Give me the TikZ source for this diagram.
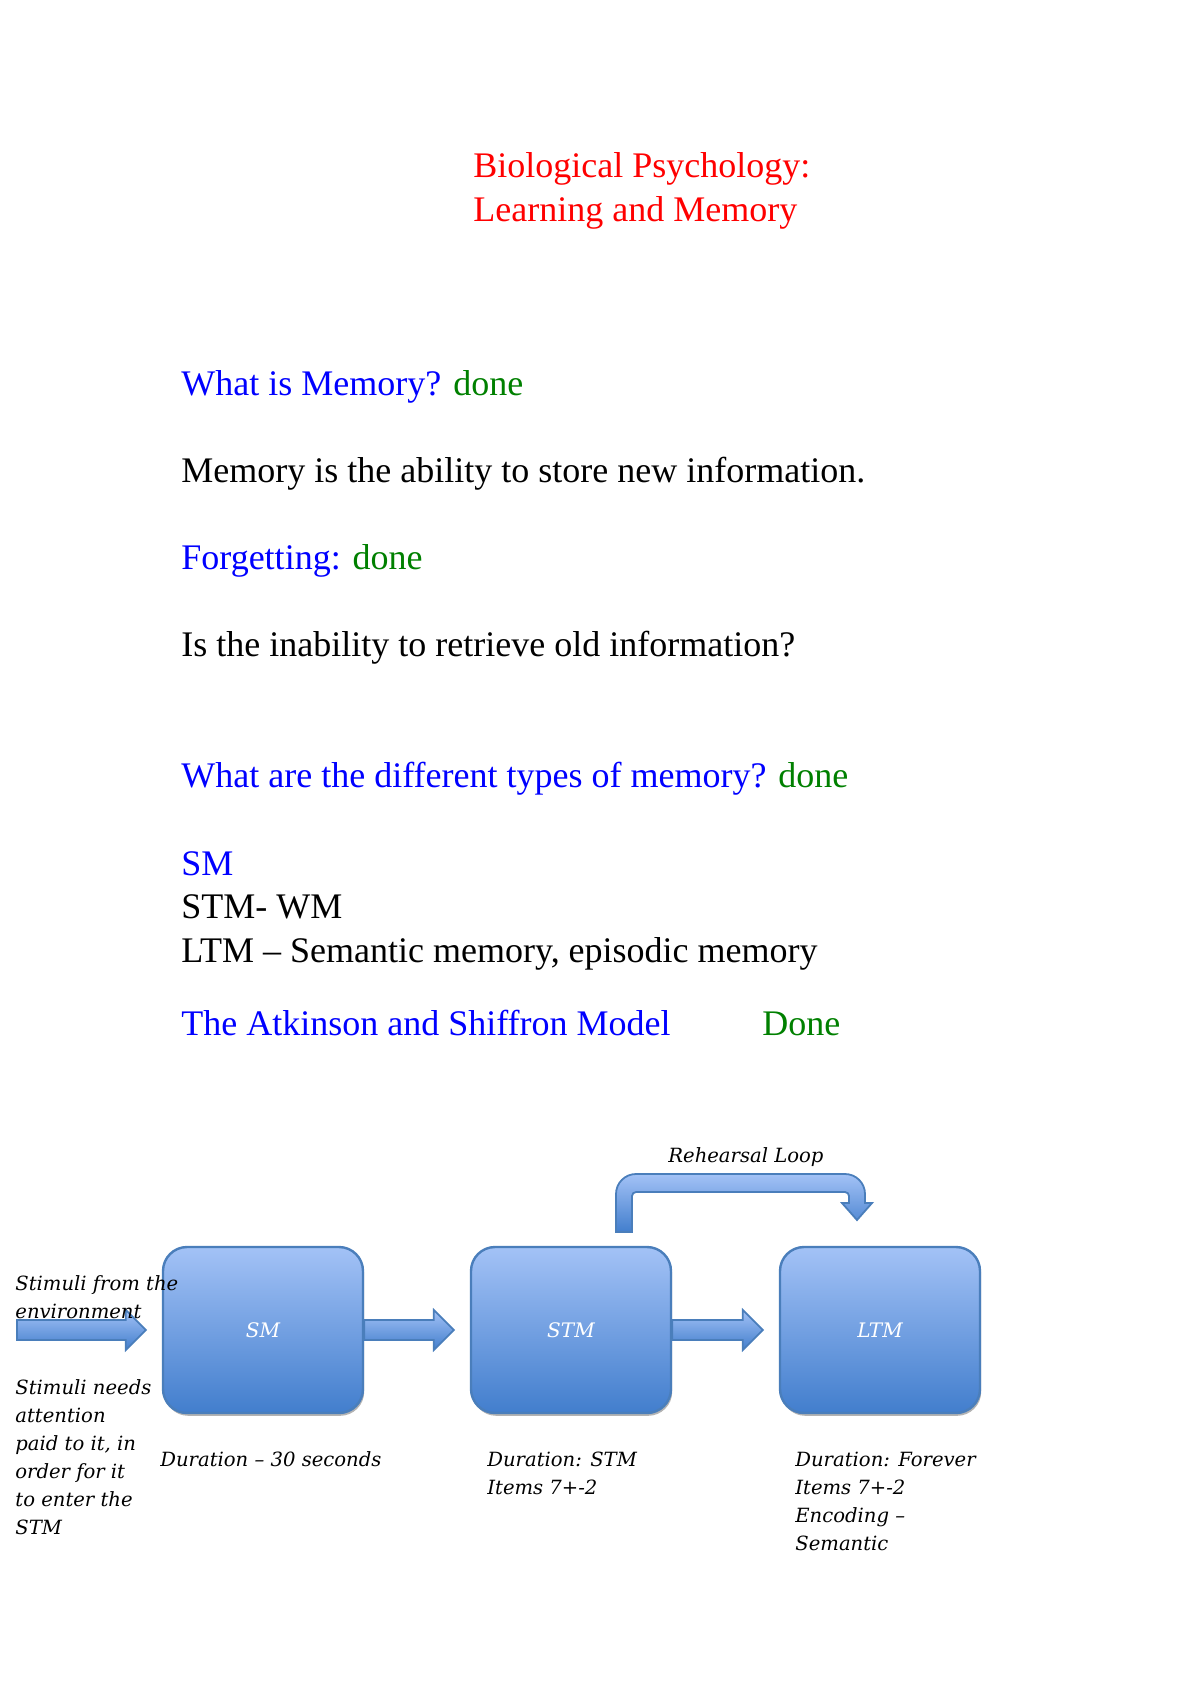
\documentclass[tikz,border=0pt]{standalone}
\usepackage{fontspec}
\setmainfont{Liberation Serif}
\newfontfamily\dgfont{DejaVu Serif}
\usetikzlibrary{calc,shadows}

\definecolor{docblue}{RGB}{0,0,255}
\definecolor{docgreen}{RGB}{0,128,0}
\definecolor{docred}{RGB}{255,0,0}
\definecolor{boxtop}{RGB}{163,194,246}
\definecolor{boxbottom}{RGB}{66,126,205}
\definecolor{boxedge}{RGB}{74,126,187}

\tikzset{
  memtext/.style={anchor=base west, inner sep=0pt, font=\fontsize{18}{20.7}\selectfont},
  dgtext/.style={anchor=base west, inner sep=0pt, align=left, font=\dgfont\itshape\fontsize{9.8}{14}\selectfont},
  membox/.style={draw=boxedge, line width=1.2pt, rounded corners=12pt, top color=boxtop, bottom color=boxbottom,
    minimum width=100pt, minimum height=83pt, inner sep=0pt, text=white, font=\dgfont\itshape\fontsize{10}{12}\selectfont,
    drop shadow={shadow xshift=0.6pt, shadow yshift=-1.4pt, fill=black!50, opacity=0.6}},
  blockarrow/.style={draw=boxedge, line width=0.9pt, top color=boxtop, bottom color=boxbottom},
}

\newcommand{\blockarr}[2]{%
  \path[blockarrow] ($(#1)+(0,-10)$) -- ($(#2)+(-36,-10)$) -- ($(#2)+(-36,-20)$)
    -- ($(#2)+(-16,0)$) -- ($(#2)+(-36,20)$) -- ($(#2)+(-36,10)$) -- ($(#1)+(0,10)$) -- cycle;}

\begin{document}
\begin{tikzpicture}[x=0.5pt, y=-0.5pt]
	\useasboundingbox (0,0) rectangle (1200,1698);

	\node[memtext, text=docred] (title1) at (473,177) {Biological Psychology:};
	\node[memtext, text=docred] (title2) at (473,221) {Learning and Memory};

	\node[memtext, text=docblue] (q1) at (181,395) {What is Memory? \textcolor{docgreen}{done}};
	\node[memtext] (a1) at (181,482) {Memory is the ability to store new information.};
	\node[memtext, text=docblue] (q2) at (181,569) {Forgetting: \textcolor{docgreen}{done}};
	\node[memtext] (a2) at (181,656) {Is the inability to retrieve old information?};
	\node[memtext, text=docblue] (q3) at (181,787) {What are the different types of memory? \textcolor{docgreen}{done}};
	\node[memtext, text=docblue] (type1) at (181,875) {SM};
	\node[memtext] (type2) at (181,918) {STM- WM};
	\node[memtext] (type3) at (181,962) {LTM – Semantic memory, episodic memory};
	\node[memtext, text=docblue] (model) at (181,1035) {The Atkinson and Shiffron Model};
	\node[memtext, text=docgreen] (modeldone) at (762,1035) {Done};

	\node[membox] (sm) at (263,1330) {SM};
	\node[membox] (stm) at (571,1330) {STM};
	\node[membox] (ltm) at (880,1330) {LTM};

	\coordinate (stimuli) at (17,1330);
	\blockarr{stimuli}{sm.west}
	\blockarr{sm.east}{stm.west}
	\blockarr{stm.east}{ltm.west}

	\path[blockarrow] (616,1232) -- (616,1194) arc (180:270:20) -- (845,1174) arc (270:360:20)
		-- (865,1203) -- (872,1203) -- (857,1220) -- (842,1203) -- (849,1203) -- (849,1196)
		arc (0:-90:4) -- (636,1192) arc (270:180:4) -- (632,1232) -- cycle;

	\node[dgtext] (rehearsal) at (668,1162) {Rehearsal Loop};
	\node[dgtext] (envtext) at (15,1318) {Stimuli from the\\environment};
	\node[dgtext] (attn) at (15,1534) {Stimuli needs\\attention\\paid to it, in\\order for it\\to enter the\\STM};
	\node[dgtext] (smcap) at (160,1466) {Duration – 30 seconds};
	\node[dgtext] (stmcap) at (487,1494) {Duration: STM\\Items 7+-2};
	\node[dgtext] (ltmcap) at (795,1550) {Duration: Forever\\Items 7+-2\\Encoding –\\Semantic};
\end{tikzpicture}
\end{document}
